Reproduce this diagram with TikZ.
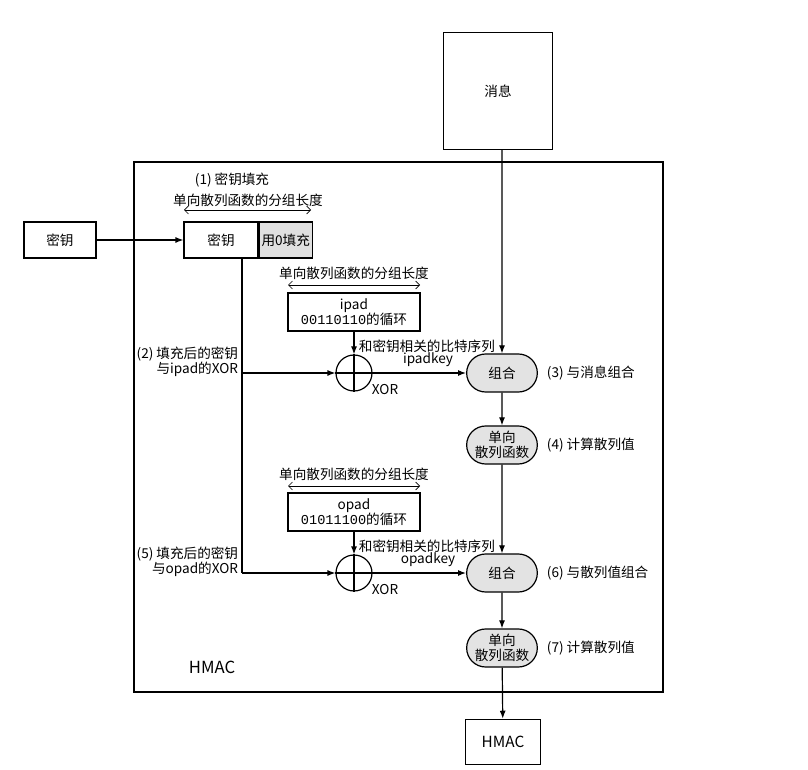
\documentclass[tikz,border=0pt]{standalone}
\usepackage{fontspec}
\setmainfont{Noto Sans CJK SC}
\newfontfamily\monof{Liberation Mono}
\usetikzlibrary{shapes.misc,arrows.meta}
\begin{document}
\begin{tikzpicture}[x=0.75pt,y=-0.75pt,font=\fontsize{10.2pt}{11.5pt}\selectfont,
  line width=0.9pt, >={Latex[length=6pt,width=4.5pt]},
  box/.style={draw,minimum width=#1*0.75pt,inner sep=0pt,align=center},
  proc/.style={draw,rounded rectangle,fill=gray!22,minimum width=55pt,minimum height=28.5pt,inner sep=1pt,align=center},
  xor/.style={draw,circle,minimum size=27pt,inner sep=0pt},
  lbl/.style={inner sep=1pt,align=left},
  dim/.style={{Straight Barb[length=3pt]}-{Straight Barb[length=3pt]},line width=0.4pt}]
\useasboundingbox (0,0) rectangle (808,770);
% outer
\node[box=529,minimum height=530*0.75pt] (hm) at (398.5,427) {};
\node at (212,667) {\fontsize{12.5pt}{14pt}\selectfont HMAC};
% message
\node[box=109,minimum height=117*0.75pt] (msg) at (498,91) {消息};
% key input
\node[box=72,minimum height=27pt] (key) at (60,240) {密钥};
\node[box=74,minimum height=27pt] (kp) at (221,240) {密钥};
\node[box=53,minimum height=27pt,fill=gray!25,anchor=west] (zp) at (kp.east) {用0填充};
\node (t1) at (232,180) {(1) 密钥填充};
\node (t1b) at (248,200) {单向散列函数的分组长度};
\coordinate (d1a) at (184,210); \coordinate (d1b) at (311,210);
\draw[dim] (d1a) -- (d1b);
\draw[->] (key) -- (kp);
% ipad
\node[box=132,minimum height=28.5pt] (ipad) at (354,312) {ipad\\{\monof 00110110}的循环};
\node (t2b) at (354,273) {单向散列函数的分组长度};
\coordinate (d2a) at (288,285); \coordinate (d2b) at (420,285);
\draw[dim] (d2a) -- (d2b);
\node[xor] (x1) at (354,373) {};
\draw[line width=0.9pt] (x1.north) -- (x1.south) (x1.west) -- (x1.east);
\node[anchor=north west,inner sep=1pt] at (370,382) {XOR};
\node[proc] (c1) at (502,373) {组合};
\node[lbl,anchor=west] at (545,373) {(3) 与消息组合};
\node[proc] (h1) at (502,445) {单向\\散列函数};
\node[lbl,anchor=west] at (545,445) {(4) 计算散列值};
% opad
\node[box=132,minimum height=28.5pt] (opad) at (354,512) {opad\\{\monof 01011100}的循环};
\node (t3b) at (354,474) {单向散列函数的分组长度};
\coordinate (d3a) at (288,486); \coordinate (d3b) at (420,486);
\draw[dim] (d3a) -- (d3b);
\node[xor] (x2) at (354,573) {};
\draw (x2.north) -- (x2.south) (x2.west) -- (x2.east);
\node[anchor=north west,inner sep=1pt] at (370,582) {XOR};
\node[proc] (c2) at (502,573) {组合};
\node[lbl,anchor=west] at (545,573) {(6) 与散列值组合};
\node[proc] (h2) at (502,648) {单向\\散列函数};
\node[lbl,anchor=west] at (545,648) {(7) 计算散列值};
\node[box=75,minimum height=34pt] (out) at (503,742) {\fontsize{11.5pt}{13pt}\selectfont HMAC};
% labels
\node[align=right,anchor=east,inner sep=1pt] at (240,362) {(2) 填充后的密钥\\与ipad的XOR};
\node[align=right,anchor=east,inner sep=1pt] at (240,562) {(5) 填充后的密钥\\与opad的XOR};
\node[anchor=west,inner sep=1pt] at (357,346) {和密钥相关的比特序列};
\node[anchor=west,inner sep=1pt] at (357,546) {和密钥相关的比特序列};
\node at (428,360) {ipadkey};
\node at (428,560) {opadkey};
% connectors
\coordinate (kd) at (kp.south -| 242,0);
\coordinate (kb1) at (242,373);
\coordinate (kb2) at (242,573);
\draw (kd) -- (kb2);
\draw[->] (kb1) -- (x1);
\draw[->] (kb2) -- (x2);
\draw[->] (ipad) -- (x1);
\draw[->] (opad) -- (x2);
\draw[->] (x1) -- (c1);
\draw[->] (x2) -- (c2);
\draw[->] (msg.south -| c1) -- (c1);
\draw[->] (c1) -- (h1);
\draw[->] (h1) -- (c2);
\draw[->] (c2) -- (h2);
\draw[->] (h2) -- (out);
\end{tikzpicture}
\end{document}
